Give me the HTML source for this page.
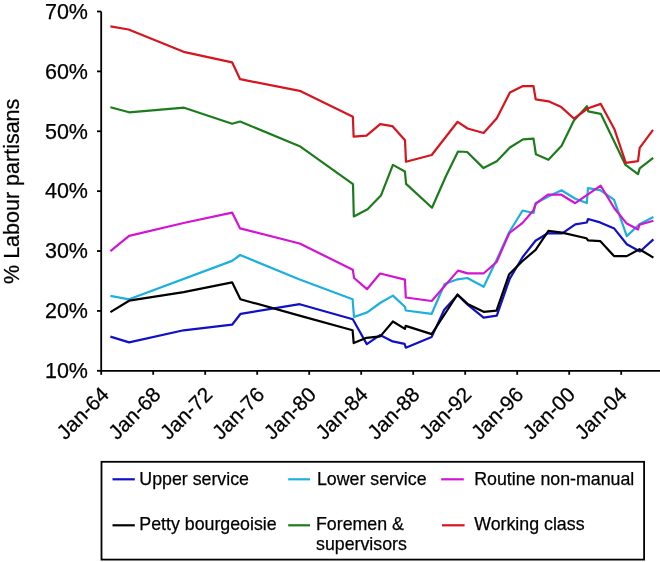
<!DOCTYPE html>
<html><head><meta charset="utf-8"><style>
html,body{margin:0;padding:0;background:#fff;}
svg{display:block;}
.t{font-family:"Liberation Sans",Arial,sans-serif;font-size:21.5px;fill:#000;stroke:#000;stroke-width:0.25px;}
.l{font-family:"Liberation Sans",Arial,sans-serif;font-size:17.8px;fill:#000;stroke:#000;stroke-width:0.25px;}
</style></head><body>
<svg width="660" height="562" viewBox="0 0 660 562">
<path d="M101.2,11.5 V370.8 H661" fill="none" stroke="#000" stroke-width="1.8"/>
<path d="M97,370.80 H101.2" stroke="#000" stroke-width="1.8"/>
<path d="M97,310.92 H101.2" stroke="#000" stroke-width="1.8"/>
<path d="M97,251.03 H101.2" stroke="#000" stroke-width="1.8"/>
<path d="M97,191.15 H101.2" stroke="#000" stroke-width="1.8"/>
<path d="M97,131.27 H101.2" stroke="#000" stroke-width="1.8"/>
<path d="M97,71.38 H101.2" stroke="#000" stroke-width="1.8"/>
<path d="M97,11.50 H101.2" stroke="#000" stroke-width="1.8"/>
<path d="M101.20,370.8 V374.8" stroke="#000" stroke-width="1.8"/>
<path d="M153.20,370.8 V374.8" stroke="#000" stroke-width="1.8"/>
<path d="M205.20,370.8 V374.8" stroke="#000" stroke-width="1.8"/>
<path d="M257.20,370.8 V374.8" stroke="#000" stroke-width="1.8"/>
<path d="M309.20,370.8 V374.8" stroke="#000" stroke-width="1.8"/>
<path d="M361.20,370.8 V374.8" stroke="#000" stroke-width="1.8"/>
<path d="M413.20,370.8 V374.8" stroke="#000" stroke-width="1.8"/>
<path d="M465.20,370.8 V374.8" stroke="#000" stroke-width="1.8"/>
<path d="M517.20,370.8 V374.8" stroke="#000" stroke-width="1.8"/>
<path d="M569.20,370.8 V374.8" stroke="#000" stroke-width="1.8"/>
<path d="M621.20,370.8 V374.8" stroke="#000" stroke-width="1.8"/>
<text x="88" y="378.10" text-anchor="end" class="t">10%</text>
<text x="88" y="318.22" text-anchor="end" class="t">20%</text>
<text x="88" y="258.33" text-anchor="end" class="t">30%</text>
<text x="88" y="198.45" text-anchor="end" class="t">40%</text>
<text x="88" y="138.57" text-anchor="end" class="t">50%</text>
<text x="88" y="78.68" text-anchor="end" class="t">60%</text>
<text x="88" y="18.80" text-anchor="end" class="t">70%</text>
<text transform="translate(110.20,395.8) rotate(-45)" text-anchor="end" class="t" style="font-size:20.8px">Jan-64</text>
<text transform="translate(162.00,395.8) rotate(-45)" text-anchor="end" class="t" style="font-size:20.8px">Jan-68</text>
<text transform="translate(213.80,395.8) rotate(-45)" text-anchor="end" class="t" style="font-size:20.8px">Jan-72</text>
<text transform="translate(265.60,395.8) rotate(-45)" text-anchor="end" class="t" style="font-size:20.8px">Jan-76</text>
<text transform="translate(317.40,395.8) rotate(-45)" text-anchor="end" class="t" style="font-size:20.8px">Jan-80</text>
<text transform="translate(369.20,395.8) rotate(-45)" text-anchor="end" class="t" style="font-size:20.8px">Jan-84</text>
<text transform="translate(421.00,395.8) rotate(-45)" text-anchor="end" class="t" style="font-size:20.8px">Jan-88</text>
<text transform="translate(472.80,395.8) rotate(-45)" text-anchor="end" class="t" style="font-size:20.8px">Jan-92</text>
<text transform="translate(524.60,395.8) rotate(-45)" text-anchor="end" class="t" style="font-size:20.8px">Jan-96</text>
<text transform="translate(576.40,395.8) rotate(-45)" text-anchor="end" class="t" style="font-size:20.8px">Jan-00</text>
<text transform="translate(628.20,395.8) rotate(-45)" text-anchor="end" class="t" style="font-size:20.8px">Jan-04</text>
<text transform="translate(19,191.3) rotate(-90)" text-anchor="middle" class="t">% Labour partisans</text>
<polyline points="110.4,336.6 129.1,342.4 183.6,330.3 232.1,324.7 240.6,313.8 299.7,304.2 352.8,319.2 366.8,344.1 380.0,335.1 392.7,341.4 404.6,343.8 405.8,347.7 431.7,336.9 444.2,309.8 457.6,295.0 467.6,304.7 483.6,317.7 496.8,315.6 509.8,278.6 522.7,257.0 535.5,240.7 547.8,233.3 562.2,233.3 575.3,224.3 586.8,222.5 588.1,219.0 600.1,222.4 614.3,228.6 626.8,244.2 640.0,251.5 653.4,239.4" fill="none" stroke="#1010c8" stroke-width="2.2" stroke-linejoin="round" stroke-linecap="butt"/>
<polyline points="110.4,295.9 129.1,299.3 232.1,260.9 240.1,255.0 299.7,279.5 352.6,299.3 354.0,317.0 367.2,312.4 380.1,303.0 392.9,295.6 404.9,306.8 405.8,310.5 431.7,313.8 444.6,284.0 457.6,279.3 467.3,278.0 483.7,286.8 496.8,259.5 509.3,232.0 522.6,210.5 533.6,213.0 535.5,203.2 548.8,196.2 561.5,190.3 575.3,198.8 586.8,203.0 588.0,188.1 600.1,190.2 614.0,199.6 626.8,236.1 639.4,224.3 653.4,217.0" fill="none" stroke="#1cb0e0" stroke-width="2.2" stroke-linejoin="round" stroke-linecap="butt"/>
<polyline points="110.4,251.2 129.1,235.9 183.6,223.0 232.1,212.6 240.1,228.4 299.7,243.5 352.8,269.8 354.1,278.0 367.0,289.2 380.1,273.5 404.9,279.6 405.8,297.5 431.7,301.0 458.0,270.6 467.7,273.4 483.8,273.3 496.6,262.0 509.4,233.0 522.6,222.9 533.3,210.5 535.9,203.7 547.9,194.6 561.4,194.7 575.2,203.2 600.7,185.7 614.5,208.5 626.8,223.6 638.0,229.4 639.5,224.7 653.4,220.7" fill="none" stroke="#d414d4" stroke-width="2.2" stroke-linejoin="round" stroke-linecap="butt"/>
<polyline points="110.4,312.1 129.1,300.7 183.6,292.2 232.1,282.3 240.4,299.2 299.5,315.6 352.6,330.3 353.7,343.1 366.6,337.8 380.3,336.4 392.9,321.5 404.9,328.9 405.7,325.9 431.7,334.1 457.5,294.5 467.6,303.9 483.6,311.8 496.5,310.6 509.2,274.2 522.0,261.5 535.6,249.8 548.4,230.8 562.0,232.6 586.4,238.3 588.0,240.3 600.4,241.2 614.0,256.1 626.8,256.1 639.4,249.2 653.4,257.6" fill="none" stroke="#000000" stroke-width="2.2" stroke-linejoin="round" stroke-linecap="butt"/>
<polyline points="110.4,107.2 129.1,112.3 184.1,107.7 232.1,123.7 240.1,121.5 299.7,146.2 353.0,184.2 353.8,216.5 367.6,209.2 380.9,195.6 392.9,164.9 404.9,171.5 406.1,183.9 432.0,207.7 446.0,176.0 458.0,151.5 467.2,152.0 483.5,168.1 496.8,161.3 509.9,147.5 523.0,139.4 533.5,138.7 535.9,154.3 548.4,159.8 561.6,145.7 573.9,120.5 587.0,106.2 588.1,111.3 600.8,113.8 625.5,164.9 638.0,174.2 639.7,168.4 653.2,157.9" fill="none" stroke="#1c7c1c" stroke-width="2.2" stroke-linejoin="round" stroke-linecap="butt"/>
<polyline points="110.4,26.4 128.6,29.5 183.6,51.8 232.1,62.3 240.1,79.2 299.7,90.8 352.9,116.7 353.6,136.7 366.5,135.6 380.2,124.2 392.3,126.1 405.0,140.2 406.0,161.8 431.7,155.0 457.6,121.8 467.6,128.5 483.6,133.0 496.8,118.2 509.9,92.5 522.5,86.2 533.5,86.2 535.7,99.3 548.5,101.3 561.3,107.1 574.1,118.7 587.5,108.5 600.8,103.9 614.3,128.9 625.8,162.9 638.0,161.2 639.7,147.8 653.0,129.8" fill="none" stroke="#d8141e" stroke-width="2.2" stroke-linejoin="round" stroke-linecap="butt"/>
<rect x="101.5" y="461.8" width="542.6" height="97.8" fill="none" stroke="#000" stroke-width="1.8"/>
<path d="M112.5,479.3 H134.8" stroke="#1010c8" stroke-width="2.2"/>
<text x="139.3" y="484.7" class="l">Upper service</text>
<path d="M288.2,479.3 H310.0" stroke="#1cb0e0" stroke-width="2.2"/>
<text x="316.9" y="484.7" class="l">Lower service</text>
<path d="M441.2,479.3 H463.8" stroke="#d414d4" stroke-width="2.2"/>
<text x="474.2" y="484.7" class="l">Routine non-manual</text>
<path d="M112.5,525.3 H134.8" stroke="#000000" stroke-width="2.2"/>
<text x="139.3" y="529.9" class="l">Petty bourgeoisie</text>
<path d="M288.2,525.3 H310.0" stroke="#1c7c1c" stroke-width="2.2"/>
<text x="316" y="529.9" class="l">Foremen &amp;</text>
<path d="M442.0,525.3 H464.6" stroke="#d8141e" stroke-width="2.2"/>
<text x="474.2" y="529.9" class="l">Working class</text>
<text x="316" y="550.3" class="l">supervisors</text>
</svg>
</body></html>
